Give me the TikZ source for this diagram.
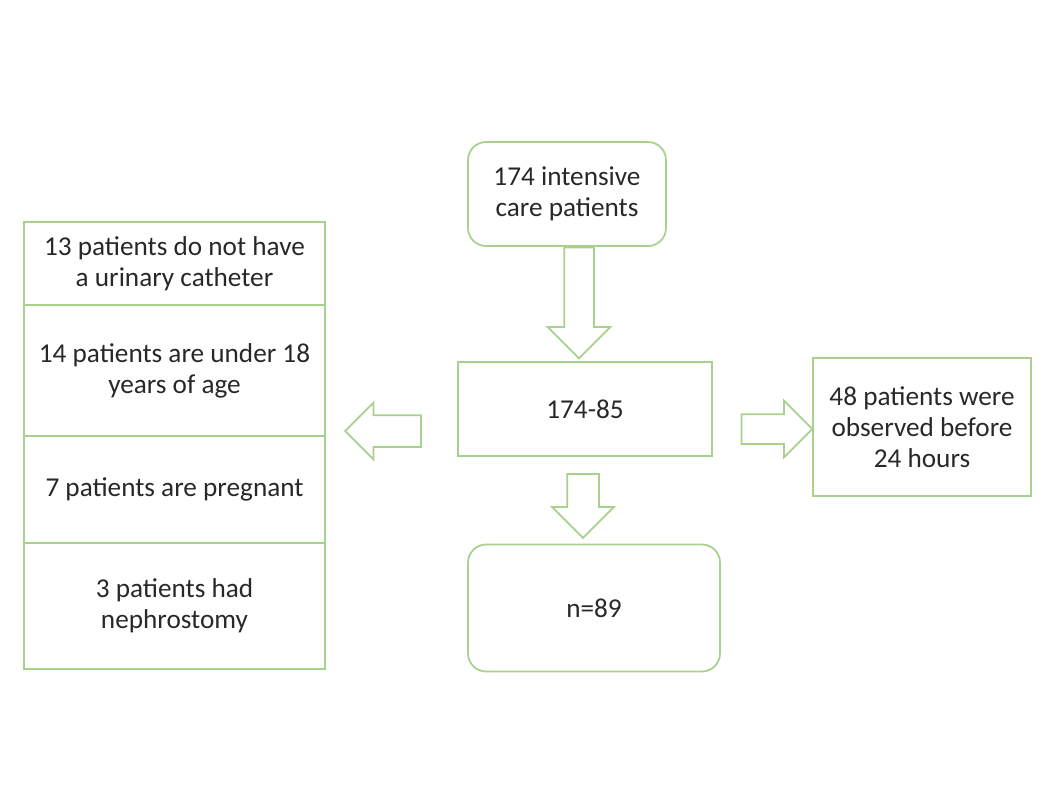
\documentclass[tikz,border=0pt]{standalone}
\usepackage{fontspec}
\setmainfont{Carlito}
\usetikzlibrary{shapes.arrows}
\definecolor{boxgreen}{RGB}{169,209,142}
\definecolor{txtgray}{RGB}{40,40,40}

\begin{document}
\begin{tikzpicture}[
    x=0.02cm, y=-0.02cm,
    font=\fontsize{15.5}{17.6}\selectfont,
    box/.style={
        rectangle,
        draw=boxgreen,
        line width=1pt,
        text=txtgray,
        align=center,
        inner sep=2pt
    },
    roundbox/.style={
        box,
        rounded corners=0.36cm
    },
    sidebox/.style={
        box,
        minimum width=6.02cm
    },
    blockarrow/.style={
        single arrow,
        draw=boxgreen,
        line width=1pt,
        fill=white,
        single arrow head indent=0pt
    }
]
\useasboundingbox (0,0) rectangle (1047,788);

% main column
\node[roundbox, minimum width=3.96cm, minimum height=2.08cm] (start) at (567,194)
    {174 intensive\\care patients};
\node[box, minimum width=5.08cm, minimum height=1.88cm] (diff) at (585,409) {174-85};
\node[roundbox, minimum width=5.04cm, minimum height=2.54cm] (final) at (594,608) {n=89};

% excluded, right
\node[box, minimum width=4.36cm, minimum height=2.76cm] (early) at (922,427)
    {48 patients were\\observed before\\24 hours};

% excluded, left
\node[sidebox, minimum height=1.66cm] (nocath) at (174.5,263.5)
    {13 patients do not have\\a urinary catheter};
\node[sidebox, minimum height=2.62cm] (young) at (174.5,370.5)
    {14 patients are under 18\\years of age};
\node[sidebox, minimum height=2.14cm] (preg) at (174.5,489.5)
    {7 patients are pregnant};
\node[sidebox, minimum height=2.52cm] (nephro) at (174.5,606)
    {3 patients had\\nephrostomy};

% block arrows
\node[blockarrow, shape border rotate=270, inner sep=0.28cm, minimum height=2.22cm,
      minimum width=1.22cm, single arrow head extend=0.33cm] (down1) at (579,295.5) {};
\node[blockarrow, shape border rotate=270, inner sep=0.3cm, minimum height=1.28cm,
      minimum width=1.2cm, single arrow head extend=0.3cm] (down2) at (583,498) {};
\node[blockarrow, shape border rotate=180, inner sep=0.3cm, minimum height=1.52cm,
      minimum width=1.1cm, single arrow head extend=0.25cm] (toleft) at (391,431) {};
\node[blockarrow, inner sep=0.28cm, minimum height=1.42cm,
      minimum width=1.1cm, single arrow head extend=0.27cm] (toright) at (769.5,429) {};

\end{tikzpicture}
\end{document}
